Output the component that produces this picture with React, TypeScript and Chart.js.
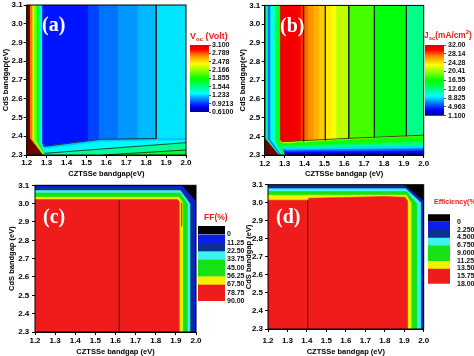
import React, { useEffect, useRef } from 'react';
import { Chart, registerables } from 'chart.js';

Chart.register(...registerables);

type Pt = [number, number];
type Region = { v: number; pts: Pt[] };

// ---------- shared axes ----------
const X_TICKS = [1.2, 1.3, 1.4, 1.5, 1.6, 1.7, 1.8, 1.9, 2.0];
const Y_TICKS = [2.3, 2.4, 2.5, 2.6, 2.7, 2.8, 2.9, 3.0, 3.1];
const X_MIN = 1.2, X_MAX = 2.0, Y_MIN = 2.3, Y_MAX = 3.1;

// ---------- (a) Voc ----------
const VOC_TICKS = [3.1, 2.789, 2.478, 2.166, 1.855, 1.544, 1.233, 0.9213, 0.61];
const VOC_LABELS = ['3.100', '2.789', '2.478', '2.166', '1.855', '1.544', '1.233', '0.9213', '0.6100'];
// [xStart, xEnd, Voc]
const VOC_COLUMNS: [number, number, number][] = [
  [1.2, 2.0, 1.26],
  [1.275, 1.51, 0.85],
  [1.51, 1.565, 0.95],
  [1.565, 1.66, 1.05],
  [1.66, 1.76, 1.12],
  [1.76, 1.85, 1.18],
];
const VOC_BANDS: { v: number; edge: Pt[] }[] = [
  { v: 1.2, edge: [[1.262, 2.38], [1.282, 2.345], [1.57, 2.384], [1.85, 2.388], [2.0, 2.39]] },
  { v: 1.3, edge: [[1.27, 2.37], [1.29, 2.333], [1.57, 2.37], [1.85, 2.376], [2.0, 2.378]] },
  { v: 1.5, edge: [[1.29, 2.309], [2.0, 2.366]] },
  { v: 1.75, edge: [[1.585, 2.3], [2.0, 2.327]] },
];
const VOC_STRIPES = [
  { v: 1.35, x: 1.275, bendY: 2.362, endX: 1.298 },
  { v: 1.8, x: 1.259, bendY: 2.372, endX: 1.292 },
  { v: 2.1, x: 1.247, bendY: 2.378, endX: 1.288 },
  { v: 2.45, x: 1.233, bendY: 2.382, endX: 1.285 },
  { v: 2.75, x: 1.225, bendY: 2.385, endX: 1.282 },
  { v: 3.3, x: 1.213, bendY: 2.39, endX: 1.279 },
];
const VOC_CONTOURS: Pt[][] = [
  [[1.85, 3.1], [1.85, 2.388], [1.57, 2.384], [1.282, 2.345]],
  [[1.29, 2.309], [2.0, 2.366]],
  [[1.585, 2.3], [2.0, 2.327]],
  [[1.213, 2.39], [1.279, 2.3]],
];

// ---------- (b) Jsc ----------
const JSC_TICKS = [32, 28.14, 24.28, 20.41, 16.55, 12.69, 8.825, 4.963, 1.1];
const JSC_LABELS = ['32.00', '28.14', '24.28', '20.41', '16.55', '12.69', '8.825', '4.963', '1.100'];
const JSC_COLUMNS: [number, number, number][] = [
  [1.2, 2.0, 12.5],
  [1.275, 1.383, 30.5],
  [1.383, 1.396, 29.0],
  [1.396, 1.42, 27.8],
  [1.42, 1.447, 26.8],
  [1.447, 1.475, 25.8],
  [1.475, 1.505, 25.0],
  [1.505, 1.535, 24.0],
  [1.535, 1.564, 23.2],
  [1.564, 1.623, 21.5],
  [1.623, 1.752, 18.3],
  [1.752, 1.913, 16.2],
];
const JSC_BANDS: { v: number; edge: Pt[] }[] = [
  { v: 22.0, edge: [[1.268, 2.382], [1.285, 2.371], [1.62, 2.389], [2.0, 2.406]] },
  { v: 17.0, edge: [[1.275, 2.37], [1.295, 2.361], [1.62, 2.382], [2.0, 2.4]] },
  { v: 12.7, edge: [[1.283, 2.355], [1.3, 2.348], [1.62, 2.358], [2.0, 2.37]] },
  { v: 9.0, edge: [[1.29, 2.343], [1.3, 2.338], [2.0, 2.348]] },
  { v: 6.0, edge: [[1.295, 2.331], [1.31, 2.326], [2.0, 2.334]] },
  { v: 3.5, edge: [[1.3, 2.319], [1.32, 2.316], [2.0, 2.322]] },
  { v: 1.6, edge: [[1.31, 2.307], [1.35, 2.306], [2.0, 2.31]] },
];
const JSC_STRIPES = [
  { v: 15.0, x: 1.275, bendY: 2.372, endX: 1.3 },
  { v: 10.5, x: 1.25, bendY: 2.378, endX: 1.29 },
  { v: 6.5, x: 1.225, bendY: 2.384, endX: 1.282 },
  { v: 12.0, x: 1.212, bendY: 2.388, endX: 1.276 },
  { v: 40, x: 1.2, bendY: 2.39, endX: 1.27 },
];
const JSC_CONTOURS: Pt[][] = [
  [[1.396, 3.1], [1.396, 2.373]],
  [[1.505, 3.1], [1.505, 2.378]],
  [[1.623, 3.1], [1.623, 2.389]],
  [[1.752, 3.1], [1.752, 2.395]],
  [[1.913, 3.1], [1.913, 2.4]],
  [[1.285, 2.371], [1.62, 2.389], [2.0, 2.406]],
];

// ---------- (c) FF ----------
const FF_TICKS = [0, 11.25, 22.5, 33.75, 45, 56.25, 67.5, 78.75, 90];
const FF_LABELS = ['0', '11.25', '22.50', '33.75', '45.00', '56.25', '67.50', '78.75', '90.00'];
const FF_LEVELS: [number, number][] = [[-11.25, 0], [0, 11.25], [11.25, 22.5], [22.5, 33.75], [33.75, 56.25], [56.25, 67.5], [67.5, 90]];
const FF_REGIONS: Region[] = [
  { v: -5, pts: [[1.2, 2.3], [2.0, 2.3], [2.0, 3.1], [1.2, 3.1]] },
  { v: 5, pts: [[1.2, 2.3], [2.0, 2.3], [2.0, 3.01], [1.93, 3.1], [1.2, 3.1]] },
  { v: 17, pts: [[1.2, 2.3], [1.987, 2.3], [1.987, 3.005], [1.925, 3.089], [1.2, 3.089]] },
  { v: 28, pts: [[1.2, 2.3], [1.97, 2.3], [1.97, 3.0], [1.922, 3.071], [1.2, 3.071]] },
  { v: 45, pts: [[1.2, 2.3], [1.957, 2.3], [1.957, 2.998], [1.92, 3.058], [1.2, 3.058]] },
  { v: 62, pts: [[1.2, 2.3], [1.934, 2.3], [1.934, 3.005], [1.915, 3.035], [1.2, 3.035]] },
  { v: 80, pts: [[1.2, 2.3], [1.917, 2.3], [1.917, 3.01], [1.908, 3.022], [1.2, 3.022]] },
];
const FF_CONTOURS: Pt[][] = [
  [[1.618, 2.3], [1.618, 3.02]],
  [[1.929, 2.876], [1.929, 3.004]],
];

// ---------- (d) Efficiency ----------
const EFF_TICKS = [0, 2.25, 4.5, 6.75, 9, 11.25, 13.5, 15.75, 18];
const EFF_LABELS = ['0', '2.250', '4.500', '6.750', '9.000', '11.25', '13.50', '15.75', '18.00'];
const EFF_LEVELS: [number, number][] = [[-2.25, 0], [0, 2.25], [2.25, 4.5], [4.5, 6.75], [6.75, 11.25], [11.25, 13.5], [13.5, 18]];
const EFF_REGIONS: Region[] = [
  { v: -1, pts: [[1.2, 2.3], [2.0, 2.3], [2.0, 3.1], [1.2, 3.1]] },
  { v: 1, pts: [[1.2, 2.3], [2.0, 2.3], [2.0, 3.008], [1.897, 3.1], [1.2, 3.1]] },
  { v: 3.4, pts: [[1.2, 2.3], [1.993, 2.3], [1.993, 3.005], [1.902, 3.092], [1.2, 3.092]] },
  { v: 5.6, pts: [[1.2, 2.3], [1.985, 2.3], [1.985, 3.0], [1.908, 3.078], [1.2, 3.078]] },
  { v: 9, pts: [[1.2, 2.3], [1.965, 2.3], [1.965, 2.995], [1.912, 3.062], [1.2, 3.062]] },
  { v: 12.4, pts: [[1.2, 2.3], [1.935, 2.3], [1.935, 3.0], [1.91, 3.042], [1.2, 3.042]] },
  { v: 16, pts: [[1.2, 2.3], [1.917, 2.3], [1.917, 3.01], [1.905, 3.03], [1.8, 3.034], [1.41, 3.025], [1.405, 3.014], [1.2, 3.014]] },
];
const EFF_CONTOURS: Pt[][] = [
  [[1.404, 2.3], [1.404, 3.014]],
];

// ---------- styling ----------
const FONT = '"Liberation Sans", Arial, sans-serif';
const JET: [number, string][] = [
  [0, '#00008a'], [0.08, '#0000ff'], [0.2, '#0090ff'], [0.28, '#00ffff'],
  [0.4, '#00ff60'], [0.5, '#00ff00'], [0.62, '#90ff00'], [0.72, '#ffff00'],
  [0.85, '#ff8000'], [0.93, '#ff0000'], [1, '#e00000'],
];
const OVER_COLOR = '#6e0000';
const LEVEL_COLORS = ['#000000', '#0a1ee8', '#0c2f94', '#3ef2f2', '#16e216', '#f2f200', '#f01c1c'];

function hexRgb(h: string) {
  const n = parseInt(h.slice(1), 16);
  return [(n >> 16) & 255, (n >> 8) & 255, n & 255];
}
function jetColor(v: number, min: number, max: number) {
  if (v > max) return OVER_COLOR;
  const f = Math.max(0, Math.min(1, (v - min) / (max - min)));
  for (let i = 1; i < JET.length; i++) {
    if (f <= JET[i][0]) {
      const [f0, c0] = JET[i - 1];
      const [f1, c1] = JET[i];
      const t = (f - f0) / (f1 - f0);
      const a = hexRgb(c0), b = hexRgb(c1);
      const m = a.map((x, k) => Math.round(x + (b[k] - x) * t));
      return `rgb(${m[0]},${m[1]},${m[2]})`;
    }
  }
  return JET[JET.length - 1][1];
}
function levelColor(v: number, levels: [number, number][]) {
  for (let i = 0; i < levels.length; i++) if (v < levels[i][1]) return LEVEL_COLORS[i];
  return LEVEL_COLORS[LEVEL_COLORS.length - 1];
}

function buildContinuous(columns: [number, number, number][], bands: { v: number; edge: Pt[] }[], stripes: any[]): Region[] {
  const regs: Region[] = [];
  columns.forEach(([x0, x1, v]) => regs.push({ v, pts: [[x0, Y_MIN], [x1, Y_MIN], [x1, Y_MAX], [x0, Y_MAX]] }));
  bands.forEach((b) => regs.push({ v: b.v, pts: [...b.edge, [X_MAX, Y_MIN], [b.edge[0][0], Y_MIN]] }));
  stripes.forEach((s) => regs.push({ v: s.v, pts: [[X_MIN, Y_MAX], [s.x, Y_MAX], [s.x, s.bendY], [s.endX, Y_MIN], [X_MIN, Y_MIN]] }));
  return regs;
}

const framePlugin = {
  id: 'frame',
  afterDatasetsDraw(chart: any) {
    const { ctx, chartArea: a } = chart;
    ctx.save();
    ctx.strokeStyle = '#000';
    ctx.lineWidth = 1;
    ctx.strokeRect(a.left, a.top, a.right - a.left, a.bottom - a.top);
    ctx.restore();
  },
};

function contourConfig(spec: any) {
  const { regions, contours, colorOf, lineColor, area, w, h, xTitle, yTitle, xPad, yPad, yTitlePad } = spec;
  const tickFont = { family: FONT, size: 8, weight: 'bold', lineHeight: 1 };
  const titleFont = { family: FONT, size: 7.5, weight: 'bold', lineHeight: 1.2 };
  const n = regions.length;
  const datasets = [
    ...regions.map((r: Region, i: number) => {
      const c = colorOf(r.v);
      const pts = [...r.pts, r.pts[0]].map(([x, y]) => ({ x, y }));
      return { data: pts, fill: 'shape', backgroundColor: c, borderColor: c, borderWidth: 0.6, pointRadius: 0, pointHoverRadius: 0, tension: 0, order: n - i + 10 };
    }),
    ...contours.map((line: Pt[], i: number) => ({
      data: line.map(([x, y]) => ({ x, y })), fill: false, borderColor: lineColor, borderWidth: 0.8,
      pointRadius: 0, pointHoverRadius: 0, tension: 0, order: -i - 1,
    })),
  ];
  return {
    type: 'line',
    data: { datasets },
    options: {
      responsive: false, animation: false, devicePixelRatio: 1, events: [],
      layout: { padding: { left: 0, top: area.top, right: w - area.right, bottom: 0 } },
      plugins: { legend: { display: false }, tooltip: { enabled: false } },
      scales: {
        x: {
          type: 'linear', min: X_MIN, max: X_MAX,
          afterBuildTicks: (s: any) => { s.ticks = X_TICKS.map((value) => ({ value })); },
          afterFit: (s: any) => { s.height = h - area.bottom; },
          ticks: { font: tickFont, color: '#000', padding: xPad, maxRotation: 0, minRotation: 0, autoSkip: false, callback: (v: any) => Number(v).toFixed(1) },
          grid: { drawOnChartArea: false, tickLength: 3, color: '#000', lineWidth: 1 },
          border: { color: '#000', width: 1 },
          title: { display: true, text: xTitle, font: titleFont, color: '#000', padding: 0 },
        },
        y: {
          type: 'linear', min: Y_MIN, max: Y_MAX,
          afterBuildTicks: (s: any) => { s.ticks = Y_TICKS.map((value) => ({ value })); },
          afterFit: (s: any) => { s.width = area.left; },
          ticks: { font: tickFont, color: '#000', padding: yPad, autoSkip: false, callback: (v: any) => Number(v).toFixed(1) },
          grid: { drawOnChartArea: false, tickLength: 3, color: '#000', lineWidth: 1 },
          border: { color: '#000', width: 1 },
          title: { display: true, text: yTitle, font: titleFont, color: '#000', padding: { top: yTitlePad, bottom: 0 } },
        },
      },
    },
    plugins: [framePlugin],
  };
}

function colorbarConfig(spec: any) {
  const { box, w, h, min, max, ticks, labels, reverse, datasets, tickLen, pad } = spec;
  const font = { family: FONT, size: 7, weight: 'bold', lineHeight: 1.2 };
  return {
    type: 'bar',
    data: { labels: [''], datasets },
    options: {
      responsive: false, animation: false, devicePixelRatio: 1, events: [],
      layout: { padding: { left: box.left, top: box.top, right: 0, bottom: h - box.bottom } },
      plugins: { legend: { display: false }, tooltip: { enabled: false } },
      scales: {
        x: { display: false },
        y: {
          position: 'right', min, max, reverse: !!reverse,
          afterBuildTicks: (s: any) => { s.ticks = ticks.map((value: number) => ({ value })); },
          afterFit: (s: any) => { s.width = w - box.right; },
          ticks: {
            font, color: '#111', padding: pad, autoSkip: false,
            callback: (v: any) => { const i = ticks.findIndex((t: number) => Math.abs(t - v) < 1e-6); return i >= 0 ? labels[i] : ''; },
          },
          grid: { drawOnChartArea: false, drawTicks: tickLen > 0, tickLength: tickLen, color: '#555' },
          border: { display: false },
        },
      },
    },
  };
}

function gradientBar(min: number, max: number) {
  return [{
    data: [[min, max]], borderWidth: 0, barPercentage: 1, categoryPercentage: 1,
    backgroundColor: (ctx: any) => {
      const ch = ctx.chart;
      const a = ch.chartArea;
      if (!a) return '#888';
      const g = ch.ctx.createLinearGradient(0, a.bottom, 0, a.top);
      JET.forEach(([f, c]) => g.addColorStop(f, c));
      return g;
    },
  }];
}
function levelBars(levels: [number, number][]) {
  return levels.map(([lo, hi], i) => ({
    data: [[lo, hi]], borderWidth: 0, barPercentage: 1, categoryPercentage: 1, grouped: false,
    backgroundColor: LEVEL_COLORS[i],
  }));
}

function ChartCanvas({ left, top, w, h, make }: any) {
  const ref = useRef<HTMLCanvasElement>(null);
  useEffect(() => {
    const chart = new Chart(ref.current as HTMLCanvasElement, make() as any);
    return () => chart.destroy();
  }, []);
  return <canvas ref={ref} width={w} height={h} style={{ position: 'absolute', left, top, width: w, height: h, display: 'block' }} />;
}

const labelStyle = (left: number, top: number): React.CSSProperties => ({
  position: 'absolute', left, top, color: '#fff', font: 'bold 20px "Liberation Serif", "Times New Roman", serif', lineHeight: '20px', whiteSpace: 'nowrap',
});
const cbTitleStyle = (left: number, top: number, size: number): React.CSSProperties => ({
  position: 'absolute', left, top, color: '#e8201a', fontFamily: FONT, fontWeight: 'bold', fontSize: size, lineHeight: `${size + 2}px`, whiteSpace: 'nowrap',
});
const subStyle: React.CSSProperties = { fontSize: '6px', verticalAlign: '-2px', lineHeight: 0 };
const supStyle: React.CSSProperties = { fontSize: '6px', verticalAlign: '4px', lineHeight: 0 };

export default function App() {
  return (
    <div style={{ position: 'fixed', left: 0, top: 0, width: 474, height: 356, background: '#fff', overflow: 'hidden' }}>
      <ChartCanvas left={0} top={0} w={237} h={178} make={() => contourConfig({
        regions: buildContinuous(VOC_COLUMNS, VOC_BANDS, VOC_STRIPES), contours: VOC_CONTOURS,
        colorOf: (v: number) => jetColor(v, 0.61, 3.1), lineColor: '#1a1a1a',
        area: { left: 26.7, top: 4, right: 186, bottom: 155 }, w: 237, h: 178,
        xTitle: 'CZTSSe bandgap(eV)', yTitle: 'CdS bandgap(eV)', xPad: 1, yPad: 1, yTitlePad: 1.5,
      })} />
      <ChartCanvas left={237} top={0} w={237} h={178} make={() => contourConfig({
        regions: buildContinuous(JSC_COLUMNS, JSC_BANDS, JSC_STRIPES), contours: JSC_CONTOURS,
        colorOf: (v: number) => jetColor(v, 1.1, 32), lineColor: '#1a1a1a',
        area: { left: 27.7, top: 4.7, right: 186.7, bottom: 155 }, w: 237, h: 178,
        xTitle: 'CZTSSe bandgap (eV)', yTitle: 'CdS bandgap(eV)', xPad: 1.3, yPad: 1.4, yTitlePad: 1.5,
      })} />
      <ChartCanvas left={0} top={178} w={237} h={178} make={() => contourConfig({
        regions: FF_REGIONS, contours: FF_CONTOURS,
        colorOf: (v: number) => levelColor(v, FF_LEVELS), lineColor: '#3a0a0a',
        area: { left: 35, top: 7.3, right: 196, bottom: 154 }, w: 237, h: 178,
        xTitle: 'CZTSSe bandgap (eV)', yTitle: 'CdS bandgap (eV)', xPad: 2, yPad: 2.7, yTitlePad: 7.2,
      })} />
      <ChartCanvas left={237} top={178} w={237} h={178} make={() => contourConfig({
        regions: EFF_REGIONS, contours: EFF_CONTOURS,
        colorOf: (v: number) => levelColor(v, EFF_LEVELS), lineColor: '#3a0a0a',
        area: { left: 31, top: 6.7, right: 186.7, bottom: 151 }, w: 237, h: 178,
        xTitle: 'CZTSSe bandgap (eV)', yTitle: 'CdS bandgap (eV)', xPad: 4.7, yPad: 2, yTitlePad: 7.5,
      })} />

      <ChartCanvas left={186} top={38} w={51} h={84} make={() => colorbarConfig({
        box: { left: 4, top: 7, right: 23, bottom: 74 }, w: 51, h: 84, min: 0.61, max: 3.1,
        ticks: VOC_TICKS, labels: VOC_LABELS, datasets: gradientBar(0.61, 3.1), tickLen: 2, pad: 1,
      })} />
      <ChartCanvas left={421} top={38} w={53} h={84} make={() => colorbarConfig({
        box: { left: 4, top: 7, right: 23, bottom: 78 }, w: 53, h: 84, min: 1.1, max: 32,
        ticks: JSC_TICKS, labels: JSC_LABELS, datasets: gradientBar(1.1, 32), tickLen: 2, pad: 2,
      })} />
      <ChartCanvas left={194} top={218} w={60} h={92} make={() => colorbarConfig({
        box: { left: 4, top: 8, right: 31, bottom: 83 }, w: 60, h: 92, min: -11.25, max: 90, reverse: true,
        ticks: FF_TICKS, labels: FF_LABELS, datasets: levelBars(FF_LEVELS), tickLen: 0, pad: 2,
      })} />
      <ChartCanvas left={424} top={203} w={50} h={92} make={() => colorbarConfig({
        box: { left: 4, top: 8.3, right: 26, bottom: 83 }, w: 50, h: 92, min: -2.25, max: 18, reverse: true,
        ticks: EFF_TICKS, labels: EFF_LABELS, datasets: levelBars(EFF_LEVELS), tickLen: 0, pad: 7,
      })} />

      <div style={labelStyle(42, 14)}>(a)</div>
      <div style={labelStyle(280, 15)}>(b)</div>
      <div style={labelStyle(43, 206)}>(c)</div>
      <div style={labelStyle(276, 206)}>(d)</div>

      <div style={cbTitleStyle(190, 31, 9)}>V<span style={subStyle}>oc</span> (Volt)</div>
      <div style={cbTitleStyle(424, 30, 8.3)}>J<span style={subStyle}>sc</span>(mA/cm<span style={supStyle}>2</span>)</div>
      <div style={cbTitleStyle(204, 212, 8.5)}>FF(%)</div>
      <div style={cbTitleStyle(434, 197, 7)}>Efficiency(%)</div>
    </div>
  );
}
